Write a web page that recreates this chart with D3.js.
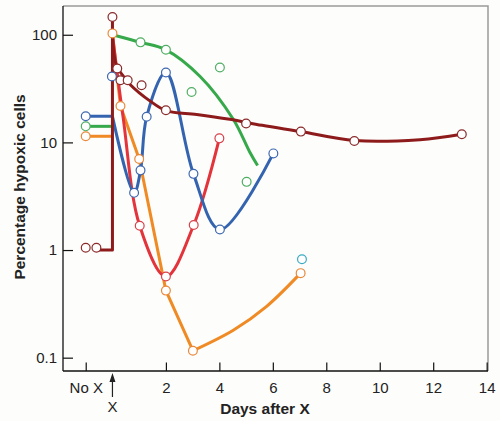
<!DOCTYPE html>
<html>
<head>
<meta charset="utf-8">
<script src="https://cdn.jsdelivr.net/npm/d3@7"></script>
<style>
  body { margin: 0; background: #fdfdfb; }
  svg { display: block; font-family: "Liberation Sans", Arial, sans-serif; }
</style>
</head>
<body>
<svg id="chart" width="500" height="421"></svg>
<script>
// ticks
var xTicks = [-1, 2, 4, 6, 8, 10, 12, 14];
var xTickLabels = ["No X", "2", "4", "6", "8", "10", "12", "14"];
var yTicks = [0.1, 1, 10, 100];

// dark red series
var darkRedDays = [-1, -0.6, 0, 0.18, 0.3, 0.57, 1.09, 2, 5, 7.05, 9.05, 13.07];
var darkRedVals = [1.05, 1.05, 146, 48.6, 37.8, 37.8, 34, 19.9, 15, 12.6, 10.3, 11.9];
var darkRedStepDays = [-0.6, 0, 0];
var darkRedStepVals = [1.0, 1.0, 146];
var darkRedFitDays = [0, 0.15, 0.4, 0.65, 1.4, 2.03, 3.15, 4.39, 5.6, 7.05, 9.05, 11.5, 13.07];
var darkRedFitVals = [100, 51.4, 41.5, 34.7, 24.3, 19.6, 18.2, 16.4, 14.4, 12.6, 10.4, 10.6, 11.9];

// blue series
var blueDays = [-1, -0.02, 0.81, 1.05, 1.28, 2, 3.03, 4.02, 6.02];
var blueVals = [17.5, 41, 3.4, 5.5, 17.3, 44.6, 5.1, 1.55, 7.9];
var blueFitDays = [0, 0.81, 1.05, 1.28, 2, 3.03, 4.02, 6.02];
var blueFitVals = [17.5, 3.4, 5.5, 17.3, 44.6, 5.1, 1.55, 7.9];

// green series
var greenDays = [-1, 1.05, 2, 2.96, 4.02, 5.02];
var greenVals = [14.1, 85, 72.5, 29.4, 49.7, 4.3];
var greenFitDays = [0, 1.05, 2, 3.28, 4.52, 5.14, 5.43];
var greenFitVals = [100, 85, 72.5, 41, 16.4, 8.1, 6.1];

// orange series
var orangeDays = [-1, 0, 0.3, 1, 2, 3.01, 7.04];
var orangeVals = [11.4, 103, 21.8, 7.0, 0.42, 0.116, 0.61];
var orangeDropDays = [0, 0.3, 1, 2, 3.01];
var orangeDropVals = [103, 21.8, 7.0, 0.42, 0.116];
var orangeRiseDays = [3.01, 4.52, 5.77, 7.04];
var orangeRiseVals = [0.116, 0.18, 0.30, 0.61];

// red series
var redDays = [1.02, 2, 3.04, 4];
var redVals = [1.68, 0.567, 1.71, 10.9];
var redFitDays = [0, 0.4, 1.02, 2, 3.04, 4];
var redFitVals = [100, 17, 1.68, 0.567, 1.71, 10.9];

// single cyan point
var cyanDays = [7.09];
var cyanVals = [0.82];

// pre-treatment levels (No X)
var preBlue = 17.5, preGreen = 14.1, preOrange = 11.4;

function zip(days, vals) {
    return days.map((d, i) => ({day: d, val: vals[i]}));
}

var svg = d3.select("#chart");
var plotLeft = 63, plotRight = 488, plotTop = 6, plotBottom = 371;

var x = d3.scaleLinear().domain([-1.85, 14.05]).range([plotLeft, plotRight]);
var y = d3.scaleLog().domain([0.0752, 185]).range([plotBottom, plotTop]);

// frame (top + right in grey)
svg.append("path")
    .attr("d", "M" + plotLeft + "," + plotTop + "H" + plotRight + "V" + plotBottom)
    .attr("fill", "none")
    .attr("stroke", "#9a9a9a")
    .attr("stroke-width", 1.5);

var yAxis = svg.append("g")
    .attr("transform", "translate(" + plotLeft + ",0)")
    .call(d3.axisLeft(y).tickValues(yTicks).tickFormat(d => String(d))
        .tickSize(-10).tickPadding(6).tickSizeOuter(0));

var xAxis = svg.append("g")
    .attr("transform", "translate(0," + plotBottom + ")")
    .call(d3.axisBottom(x).tickValues(xTicks).tickFormat((d, i) => xTickLabels[i])
        .tickSize(-8.5).tickPadding(11).tickSizeOuter(0));

[xAxis, yAxis].forEach(ax => {
    ax.select(".domain").attr("stroke", "#111").attr("stroke-width", 1.3);
    ax.selectAll(".tick line").attr("stroke", "#111").attr("stroke-width", 1.2);
    ax.selectAll("text").attr("font-size", "15px").attr("fill", "#222")
        .attr("font-family", "'Liberation Sans', Arial, sans-serif");
});
// domain lines cover the full frame
xAxis.select(".domain").attr("d", "M" + plotLeft + ",0H" + plotRight);
yAxis.select(".domain").attr("d", "M0," + plotTop + "V" + plotBottom);

// arrow marking X
var ax0 = x(0);
svg.append("line")
    .attr("x1", ax0).attr("x2", ax0)
    .attr("y1", 397).attr("y2", 379)
    .attr("stroke", "#222").attr("stroke-width", 1.2);
svg.append("path")
    .attr("d", "M" + ax0 + ",373L" + (ax0 - 3) + ",382L" + (ax0 + 3) + ",382Z")
    .attr("fill", "#222");
svg.append("text")
    .attr("x", ax0).attr("y", 412)
    .attr("text-anchor", "middle")
    .attr("font-size", "15px").attr("fill", "#222")
    .text("X");

// axis titles
svg.append("text")
    .attr("x", 265).attr("y", 414)
    .attr("text-anchor", "middle")
    .attr("font-size", "15.5px").attr("font-weight", "bold").attr("fill", "#222")
    .text("Days after X");

svg.append("text")
    .attr("transform", "translate(25,187) rotate(-90)")
    .attr("text-anchor", "middle")
    .attr("font-size", "15.5px").attr("font-weight", "bold").attr("fill", "#222")
    .text("Percentage hypoxic cells");

var smooth = d3.line().x(d => x(d.day)).y(d => y(d.val)).curve(d3.curveCatmullRom.alpha(0.5));
var straight = d3.line().x(d => x(d.day)).y(d => y(d.val));

var lines = [
    {pts: zip(greenFitDays, greenFitVals), color: "#36a94a", gen: smooth},
    {pts: zip([-1, 0], [preGreen, preGreen]), color: "#36a94a", gen: straight},
    {pts: zip([-1, 0], [preOrange, preOrange]), color: "#f08a24", gen: straight},
    {pts: zip(orangeDropDays, orangeDropVals), color: "#f08a24", gen: straight},
    {pts: zip(orangeRiseDays, orangeRiseVals), color: "#f08a24", gen: smooth},
    {pts: zip(redFitDays, redFitVals), color: "#e3343c", gen: smooth},
    {pts: zip([-1, 0], [preBlue, preBlue]), color: "#3463b0", gen: straight},
    {pts: zip(blueFitDays, blueFitVals), color: "#3463b0", gen: smooth},
    {pts: zip(darkRedFitDays, darkRedFitVals), color: "#8e1b1b", gen: smooth},
    {pts: zip(darkRedStepDays, darkRedStepVals), color: "#8e1b1b", gen: straight}
];

svg.append("g").selectAll("path")
    .data(lines)
    .enter()
    .append("path")
    .attr("d", d => d.gen(d.pts))
    .attr("fill", "none")
    .attr("stroke", d => d.color)
    .attr("stroke-width", 3)
    .attr("stroke-linejoin", "round");

var markerSets = [
    {pts: zip(greenDays, greenVals), color: "#4fae62"},
    {pts: zip(orangeDays, orangeVals), color: "#e9883a"},
    {pts: zip(redDays, redVals), color: "#d9404a"},
    {pts: zip(blueDays, blueVals), color: "#3e68b0"},
    {pts: zip(darkRedDays, darkRedVals), color: "#8a2a2a"},
    {pts: zip(cyanDays, cyanVals), color: "#3aaac4"}
];

markerSets.forEach(set => {
    svg.append("g").selectAll("circle")
        .data(set.pts)
        .enter()
        .append("circle")
        .attr("cx", d => x(d.day))
        .attr("cy", d => y(d.val))
        .attr("r", 4.4)
        .attr("fill", "#fff")
        .attr("stroke", set.color)
        .attr("stroke-width", 1.2);
});
</script>
</body>
</html>
